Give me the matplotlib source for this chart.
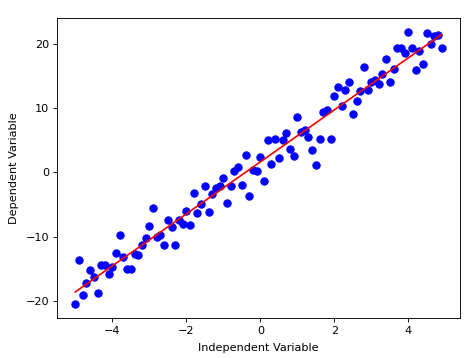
import numpy as np
import matplotlib
matplotlib.use("Agg")
import matplotlib.pyplot as plt

x_values = np.round(np.arange(-5.0, 5.0, 0.1), 1)
y_values = [
    -20.6, -13.7, -19.1, -17.2, -15.3, -16.3, -18.9, -14.4, -14.4, -15.8,
    -14.7, -12.5, -9.8, -13.2, -15.1, -15.0,
    -12.7, -12.9, -11.3, -10.2, -8.3, -5.6, -10.1, -9.8, -11.3, -7.4,
    -8.5, -11.4, -7.5, -8.0, -6.0, -8.2, -3.2, -6.3,
    -4.9, -2.1, -6.2, -3.3, -2.4, -2.1, -0.9, -4.7, -2.1, 0.3,
    0.9, -1.9, 2.7, -3.7, 0.4, 0.3, 2.4,
    -1.3, 5.1, 1.3, 5.2, 2.2, 5.1, 6.1, 3.6, 2.6, 8.6,
    6.3, 6.7, 5.6, 3.5, 1.2, 5.3, 9.4,
    9.8, 5.2, 12.0, 13.4, 10.4, 12.9, 14.2, 9.2, 11.2, 12.8,
    16.4, 12.9, 14.1, 14.4, 13.8, 15.4, 17.7,
    14.2, 16.2, 19.4, 19.4, 18.6, 22.0, 19.4, 16.0, 18.9, 17.0,
    21.8, 20.1, 21.3, 21.4, 19.5,
]
y_values = np.array(y_values)

slope, intercept = np.polyfit(x_values, y_values, 1)

DPI = 80.7
fig = plt.figure(figsize=(474 / DPI, 358 / DPI), dpi=DPI)
ax = fig.add_axes([57 / 474, 1 - 318 / 358, 403 / 474, 300 / 358])
ax.scatter(x_values, y_values, color="blue", s=42)
ax.plot(x_values, slope * x_values + intercept, color="red")
ax.set_xlabel("Independent Variable", labelpad=6)
ax.set_ylabel("Dependent Variable", labelpad=6)
fig.savefig("out.png", dpi=DPI)
